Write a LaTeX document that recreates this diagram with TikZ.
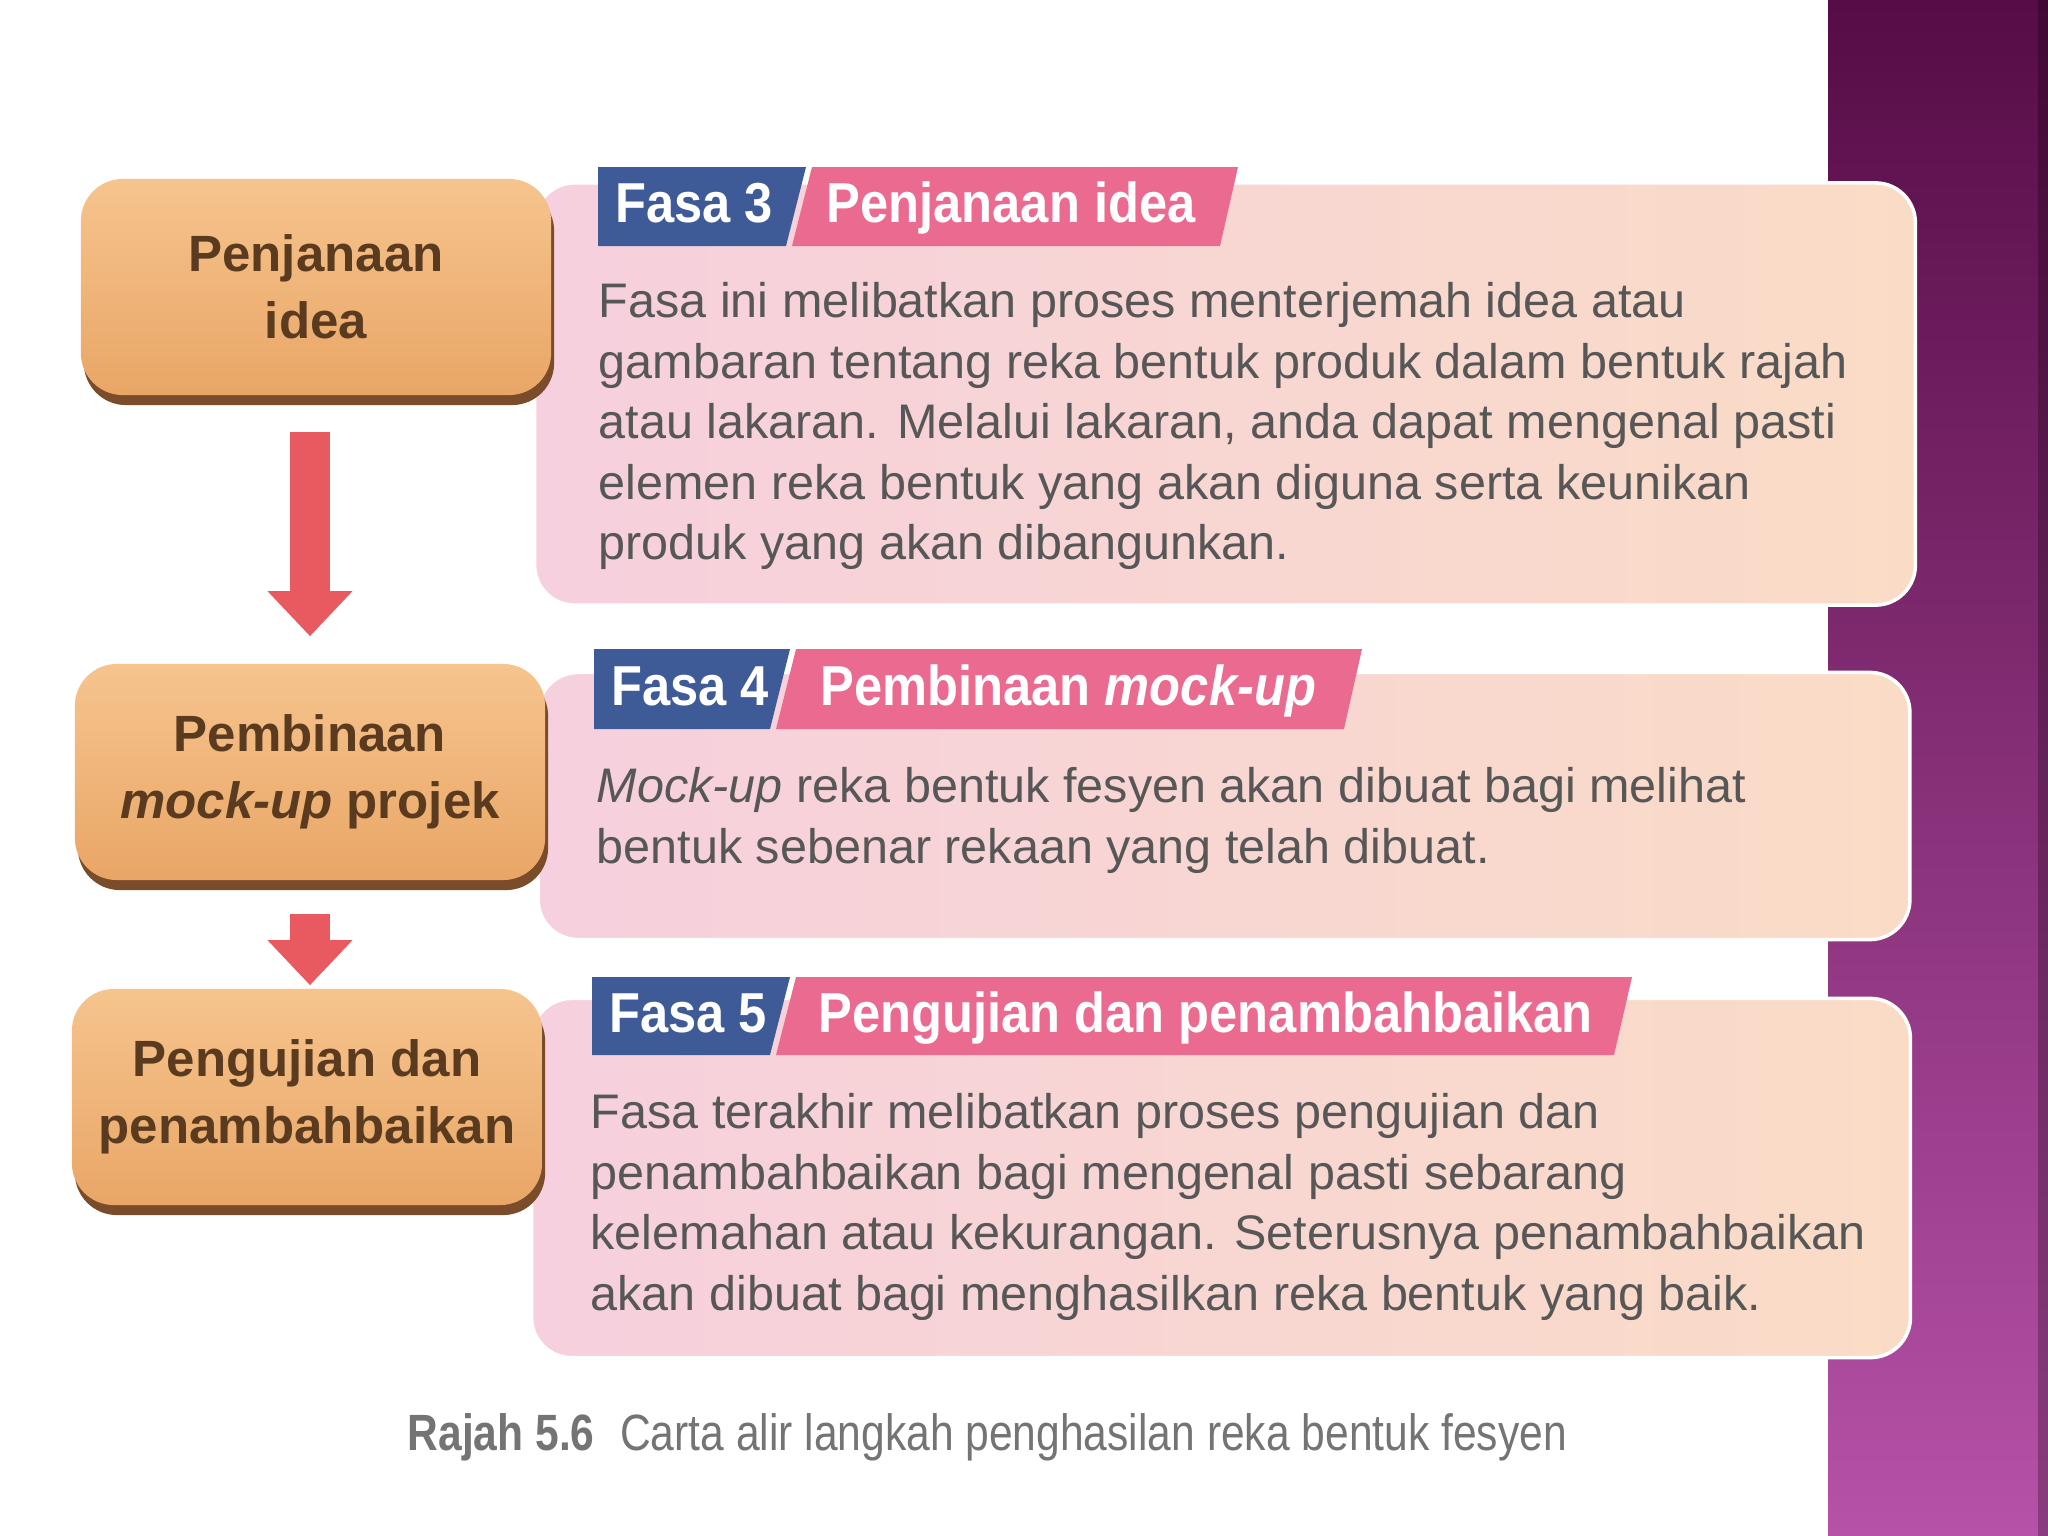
\documentclass[tikz,border=0pt]{standalone}
\usepackage{fontspec}
\setmainfont{Liberation Sans}
\newfontfamily\captfont[FakeStretch=0.835]{Liberation Sans}
\newfontfamily\fasafont[FakeStretch=0.9]{Liberation Sans}
\usetikzlibrary{arrows.meta,shadows}

\definecolor{boxtop}{HTML}{F6C48E}
\definecolor{boxbottom}{HTML}{E9A666}
\definecolor{boxshadow}{HTML}{7A4C2A}
\definecolor{boxtext}{HTML}{5B3B1F}
\definecolor{panelpink}{HTML}{F6D0DE}
\definecolor{panelpeach}{HTML}{FADCC6}
\definecolor{fasablue}{HTML}{3F5B97}
\definecolor{fasapink}{HTML}{EA6A90}
\definecolor{arrowred}{HTML}{E85A60}
\definecolor{bodygray}{HTML}{575757}
\definecolor{captgray}{HTML}{747474}
\definecolor{purpletop}{HTML}{560C46}
\definecolor{purplemid}{HTML}{7E2470}
\definecolor{purplebottom}{HTML}{B652A8}

\def \boxRadius {0.42cm}
\def \bodySize {\fontsize{13.8}{17.2}\selectfont}
\def \fasaSize {\fasafont\fontsize{16}{19}\selectfont\bfseries}

\tikzset{
  stepbox/.style={rounded corners=\boxRadius, top color=boxtop, bottom color=boxbottom,
    minimum width=4.7cm, minimum height=2.16cm, align=center, text=boxtext,
    font=\fontsize{14.5}{19}\selectfont\bfseries,
    drop shadow={shadow xshift=0.03cm, shadow yshift=-0.1cm, fill=boxshadow, opacity=1}},
  panel/.style={rounded corners=0.4cm, left color=panelpink, right color=panelpeach,
    draw=white, line width=1pt},
  bodytext/.style={anchor=north west, inner sep=0pt, align=left, text=bodygray, font=\bodySize},
  fasanum/.style={anchor=base, inner sep=0pt, text=white, font=\fasaSize},
  fasatitle/.style={anchor=base west, inner sep=0pt, text=white, font=\fasaSize},
  flowarrow/.style={draw=arrowred, line width=0.4cm, -{Triangle[length=0.45cm, width=0.82cm]}}
}

\begin{document}
\begin{tikzpicture}[x=0.01cm, y=-0.01cm]
\useasboundingbox (0,0) rectangle (2048,1536);
\fill[white] (0,0) rectangle (2048,1536);

% purple strip on the right
\shade[top color=purpletop, middle color=purplemid, bottom color=purplebottom] (1828,0) rectangle (2048,1536);
\fill[black, opacity=0.25] (2038,0) rectangle (2048,1536);

% panels
\node[panel, minimum width=13.8cm, minimum height=4.22cm] (p3) at (1225,394) {};
\node[panel, minimum width=13.71cm, minimum height=2.67cm] (p4) at (1224,806) {};
\node[panel, minimum width=13.78cm, minimum height=3.59cm] (p5) at (1221,1178) {};

% Fasa 3
\fill[fasablue] (598,167) -- (806,167) -- (786,246) -- (598,246) -- cycle;
\fill[fasapink] (812,167) -- (1238,167) -- (1220,246) -- (792,246) -- cycle;
\node[fasanum] (f3) at (694,222) {Fasa 3};
\node[fasatitle] (t3) at (826,222) {Penjanaan idea};
\node[bodytext] (b3) at (598,282) {Fasa ini melibatkan proses menterjemah idea atau\\
  gambaran tentang reka bentuk produk dalam bentuk rajah\\
  atau lakaran. Melalui lakaran, anda dapat mengenal pasti\\
  elemen reka bentuk yang akan diguna serta keunikan\\
  produk yang akan dibangunkan.};

% Fasa 4
\fill[fasablue] (594,649) -- (790,649) -- (770,729) -- (594,729) -- cycle;
\fill[fasapink] (796,649) -- (1362,649) -- (1344,729) -- (776,729) -- cycle;
\node[fasanum] (f4) at (690,705) {Fasa 4};
\node[fasatitle] (t4) at (820,705) {Pembinaan \textit{mock-up}};
\node[bodytext] (b4) at (596,767) {\textit{Mock-up} reka bentuk fesyen akan dibuat bagi melihat\\
  bentuk sebenar rekaan yang telah dibuat.};

% Fasa 5
\fill[fasablue] (592,977) -- (790,977) -- (770,1055) -- (592,1055) -- cycle;
\fill[fasapink] (796,977) -- (1632,977) -- (1614,1055) -- (776,1055) -- cycle;
\node[fasanum] (f5) at (688,1032) {Fasa 5};
\node[fasatitle] (t5) at (818,1032) {Pengujian dan penambahbaikan};
\node[bodytext] (b5) at (590,1093) {Fasa terakhir melibatkan proses pengujian dan\\
  penambahbaikan bagi mengenal pasti sebarang\\
  kelemahan atau kekurangan. Seterusnya penambahbaikan\\
  akan dibuat bagi menghasilkan reka bentuk yang baik.};

% left column
\node[stepbox] (idea) at (316,287) {Penjanaan\\idea};
\node[stepbox] (mockup) at (310,772) {Pembinaan\\\textit{mock-up} projek};
\node[stepbox] (uji) at (307,1097) {Pengujian dan\\penambahbaikan};

\draw[flowarrow, shorten <=0.36cm, shorten >=0.27cm] (idea.south -| mockup.north) -- (mockup.north);
\draw[flowarrow, shorten <=0.33cm, shorten >=0.03cm] (mockup.south) -- (mockup.south |- uji.north);

\node[anchor=base west, inner sep=0pt, text=captgray, font=\captfont\fontsize{14.5}{17}\selectfont] (caption)
  at (407,1450) {\textbf{Rajah 5.6}\enspace Carta alir langkah penghasilan reka bentuk fesyen};
\end{tikzpicture}
\end{document}
